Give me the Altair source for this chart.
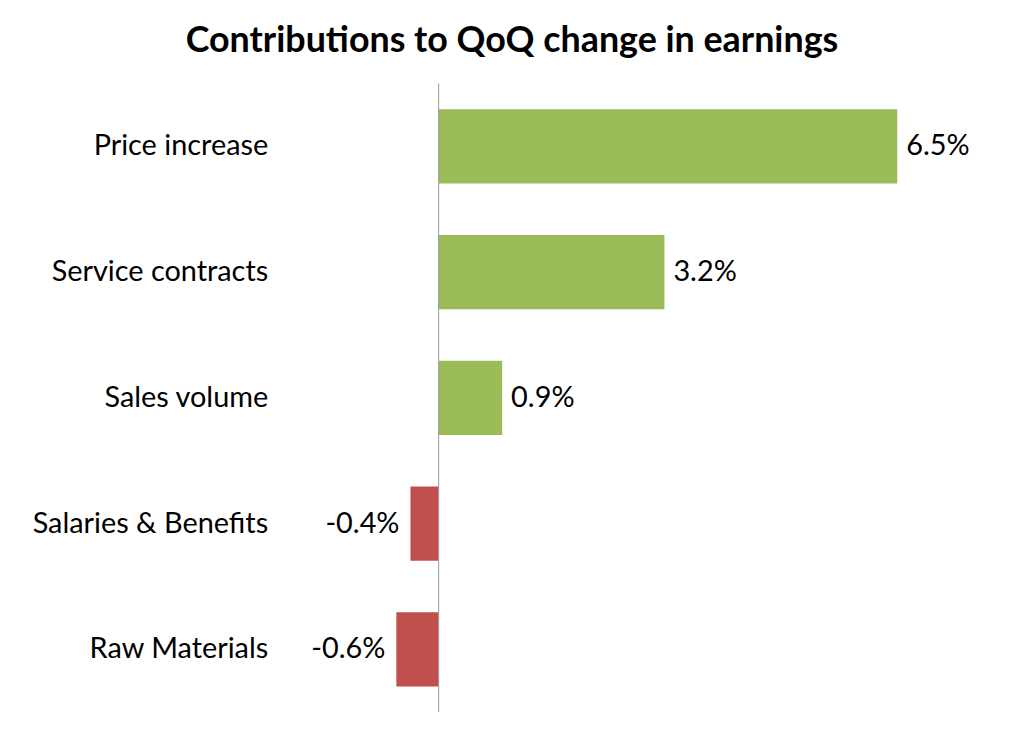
import altair as alt
import pandas as pd

categories = ["Price increase", "Service contracts", "Sales volume", "Salaries & Benefits", "Raw Materials"]
values = [6.5, 3.2, 0.9, -0.4, -0.6]
labels = ["6.5%", "3.2%", "0.9%", "-0.4%", "-0.6%"]
signs = ["pos" if v >= 0 else "neg" for v in values]

df = pd.DataFrame({"category": categories, "value": values, "label": labels, "sign": signs})
pos_df = df[df["value"] >= 0]
neg_df = df[df["value"] < 0]
zero_df = pd.DataFrame({"value": [0]})

FONT = "Lato"
FS = 29

y = alt.Y(
    "category:N",
    scale=alt.Scale(domain=categories, paddingInner=0.41, paddingOuter=0.205),
    axis=alt.Axis(title=None, ticks=False, domain=False, labelFontSize=FS,
                  labelFont=FONT, labelColor="black", labelPadding=30,
                  labelLimit=400, minExtent=278, maxExtent=278),
)
x = alt.X("value:Q", scale=alt.Scale(domain=[-2, 8]), axis=None)

bars = alt.Chart(df).mark_bar().encode(
    y=y, x=x,
    color=alt.Color("sign:N", scale=alt.Scale(domain=["pos", "neg"], range=["#9BBB59", "#C0504D"]), legend=None),
)

pos_text = alt.Chart(pos_df).mark_text(
    align="left", baseline="middle", dx=9, font=FONT, fontSize=FS, color="black"
).encode(y=y, x=x, text="label:N")

neg_text = alt.Chart(neg_df).mark_text(
    align="right", baseline="middle", dx=-11, font=FONT, fontSize=FS, color="black"
).encode(y=y, x=x, text="label:N")

rule = alt.Chart(zero_df).mark_rule(color="#999999", strokeWidth=1).encode(x=x)

chart = alt.layer(bars, rule, pos_text, neg_text).properties(
    width=709,
    height=632,
    padding=13,
    title=alt.TitleParams(
        "Contributions to QoQ change in earnings",
        font=FONT, fontSize=36, fontWeight="bold", color="black",
        anchor="middle", frame="bounds", offset=23,
    ),
).configure_view(strokeWidth=0)

chart.save("out.html", embed_options={"renderer": "svg", "actions": False})
